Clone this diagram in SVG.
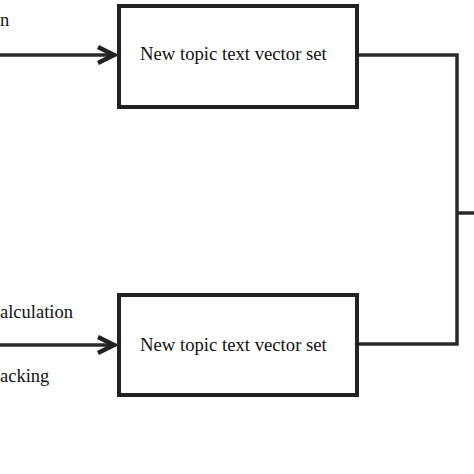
<svg xmlns="http://www.w3.org/2000/svg" width="474" height="474" viewBox="0 0 474 474">
<style>
.box{fill:#fff;stroke:#222;stroke-width:4}
.lbl{font-family:"Liberation Serif","Times New Roman",serif;font-size:18.7px;fill:#111}
.side{font-family:"Liberation Serif","Times New Roman",serif;font-size:18.5px;fill:#111}
.ln{fill:none;stroke:#2a2a2a;stroke-width:3.5}
.ah{fill:none;stroke:#222;stroke-width:4.5;stroke-linejoin:miter}
</style>
<rect width="474" height="474" fill="#fff"/>
<g id="connectors">
<line class="ln" x1="0" y1="55" x2="116" y2="55"/>
<path class="ah" d="M98,47 L114,55 L98,63"/>
<line class="ln" x1="0" y1="345" x2="116" y2="345"/>
<path class="ah" d="M98,337 L114,345 L98,353"/>
<polyline class="ln" points="357,55 457,55 457,344 357,344"/>
<line class="ln" x1="457" y1="213" x2="474" y2="213"/>
</g>
<g id="node-top">
<rect class="box" x="119" y="6" width="238" height="101"/>
<text class="lbl" x="140" y="60">New topic text vector set</text>
</g>
<g id="node-bottom">
<rect class="box" x="119" y="295" width="238" height="100"/>
<text class="lbl" x="140" y="351">New topic text vector set</text>
</g>
<g id="labels">
<text class="side" x="0" y="26">n</text>
<text class="side" x="0" y="318">alculation</text>
<text class="side" x="0" y="382">acking</text>
</g>
</svg>
